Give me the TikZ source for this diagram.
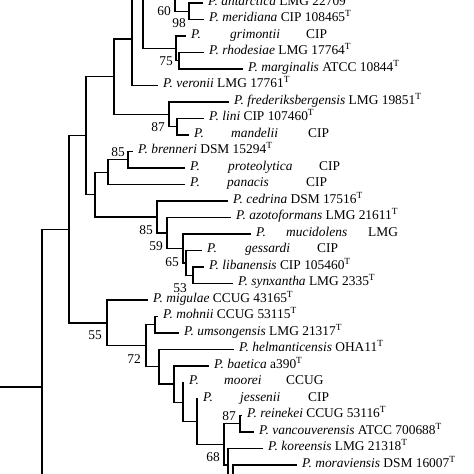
\documentclass[tikz,border=0pt]{standalone}
\usepackage{fontspec}
\setmainfont{Liberation Serif}
\usetikzlibrary{positioning}
\newcommand{\pspec}[1]{\textit{P. #1}}
\newcommand{\typeT}{\textsuperscript{T}}
\newcommand{\spaced}[4]{\makebox[#1pt][l]{\textit{P.}}\makebox[#2pt][l]{\textit{#3}}#4}

\begin{document}
\begin{tikzpicture}[
  x=1pt, y=-1pt,
  every node/.style={font=\fontsize{13.4}{15}\selectfont},
  taxon/.style={anchor=mid west, inner xsep=6pt, inner ysep=0pt},
  boot/.style={inner sep=0pt},
  branch/.style={line width=1.2pt, line cap=rect},
]
\useasboundingbox (0,0) rectangle (474,474);
\clip (0,0) rectangle (474,474);

% taxa (node = tip of the branch)
\node[taxon] (antarctica) at (202,3) {\pspec{antarctica} LMG 22709\typeT};
\node[taxon] (meridiana) at (203,19.5) {\pspec{meridiana} CIP 108465\typeT};
\node[taxon] (grimontii) at (185,36) {\spaced{39}{76}{grimontii}{CIP}};
\node[taxon] (rhodesiae) at (203,52.5) {\pspec{rhodesiae} LMG 17764\typeT};
\node[taxon] (marginalis) at (242,69) {\pspec{marginalis} ATCC 10844\typeT};
\node[taxon] (veronii) at (157,85.5) {\pspec{veronii} LMG 17761\typeT};
\node[taxon] (frederiks) at (228,102) {\pspec{frederiksbergensis} LMG 19851\typeT};
\node[taxon] (lini) at (203,118.5) {\pspec{lini} CIP 107460\typeT};
\node[taxon] (mandelii) at (188,135) {\spaced{37}{77}{mandelii}{CIP}};
\node[taxon] (brenneri) at (132,151.5) {\pspec{brenneri} DSM 15294\typeT};
\node[taxon] (proteolytica) at (184,168) {\spaced{38}{91}{proteolytica}{CIP}};
\node[taxon] (panacis) at (184,184.5) {\spaced{37}{79}{panacis}{CIP}};
\node[taxon] (cedrina) at (227,201) {\pspec{cedrina} DSM 17516\typeT};
\node[taxon] (azotoformans) at (230,217.5) {\pspec{azotoformans} LMG 21611\typeT};
\node[taxon] (mucidolens) at (250,234) {\spaced{30}{82}{mucidolens}{LMG}};
\node[taxon] (gessardi) at (201,250.5) {\spaced{38}{72}{gessardi}{CIP}};
\node[taxon] (libanensis) at (203,267) {\pspec{libanensis} CIP 105460\typeT};
\node[taxon] (synxantha) at (232,283.5) {\pspec{synxantha} LMG 2335\typeT};
\node[taxon] (migulae) at (147,300) {\pspec{migulae} CCUG 43165\typeT};
\node[taxon] (mohnii) at (157,316.5) {\pspec{mohnii} CCUG 53115\typeT};
\node[taxon] (umsongensis) at (178,333) {\pspec{umsongensis} LMG 21317\typeT};
\node[taxon] (helmanticensis) at (233,349.5) {\pspec{helmanticensis} OHA11\typeT};
\node[taxon] (baetica) at (208,366) {\pspec{baetica} a390\typeT};
\node[taxon] (moorei) at (183,382.5) {\spaced{35}{62}{moorei}{CCUG}};
\node[taxon] (jessenii) at (197,399) {\spaced{37}{68}{jessenii}{CIP}};
\node[taxon] (reinekei) at (241,415.5) {\pspec{reinekei} CCUG 53116\typeT};
\node[taxon] (vancouverensis) at (253,432) {\pspec{vancouverensis} ATCC 700688\typeT};
\node[taxon] (koreensis) at (262,448.5) {\pspec{koreensis} LMG 21318\typeT};
\node[taxon] (moraviensis) at (296,465) {\pspec{moraviensis} DSM 16007\typeT};

% internal nodes
\coordinate (cAntMer) at (189,11.25);
\coordinate (cRhoMar) at (179,60.75);
\coordinate (cGri) at (176,48.4);
\coordinate (cVer) at (132,39);
\coordinate (cFre) at (114,76.75);
\coordinate (cFreLin) at (169,114.4);
\coordinate (cLinMan) at (177,126.75);
\coordinate (cUpper) at (86,135.7);
\coordinate (cBreGrp) at (95,194.6);
\coordinate (cBrePan) at (108,172.1);
\coordinate (cBrePro) at (128,159.75);
\coordinate (cCed) at (157,217);
\coordinate (cAzo) at (167,233);
\coordinate (cMuc) at (183,248.4);
\coordinate (cGes) at (186,262.9);
\coordinate (cLibSyn) at (193,275.25);
\coordinate (cFluo) at (69,229.3);
\coordinate (cRoot) at (42,387);
\coordinate (cMig) at (107,322.9);
\coordinate (cMohGrp) at (146,345.8);
\coordinate (cMohUms) at (155,324.75);
\coordinate (cHel) at (159,366.8);
\coordinate (cBae) at (174,384);
\coordinate (cMoo) at (183,402.1);
\coordinate (cJes) at (197,421.7);
\coordinate (cRei) at (224,444.3);
\coordinate (cReiVan) at (240,423.75);
\coordinate (cKor) at (228,464.9);
\coordinate (cMor) at (233,481.3);

% branches leaving the visible part
\coordinate (offA) at (175,-8);
\coordinate (offB) at (143,-8);
\coordinate (offC) at (132,-8);
\coordinate (offRoot) at (-8,387);
\coordinate (offD) at (42,482);
\coordinate (offE) at (233,482);

\begin{scope}[branch]
\draw (offA) |- (cAntMer);
\draw (cAntMer) |- (antarctica.mid west);
\draw (cAntMer) |- (meridiana.mid west);
\draw (offB) |- (cGri);
\draw (cGri) |- (grimontii.mid west);
\draw (cGri) |- (cRhoMar);
\draw (cRhoMar) |- (rhodesiae.mid west);
\draw (cRhoMar) |- (marginalis.mid west);
\draw (offC) |- (veronii.mid west);
\draw (cFre) |- (cVer);
\draw (cFre) |- (cFreLin);
\draw (cFreLin) |- (frederiks.mid west);
\draw (cFreLin) |- (cLinMan);
\draw (cLinMan) |- (lini.mid west);
\draw (cLinMan) |- (mandelii.mid west);
\draw (cUpper) |- (cFre);
\draw (cUpper) |- (cBreGrp);
\draw (cBreGrp) |- (cBrePan);
\draw (cBreGrp) |- (cCed);
\draw (cBrePan) |- (cBrePro);
\draw (cBrePan) |- (panacis.mid west);
\draw (cBrePro) |- (brenneri.mid west);
\draw (cBrePro) |- (proteolytica.mid west);
\draw (cCed) |- (cedrina.mid west);
\draw (cCed) |- (cAzo);
\draw (cAzo) |- (azotoformans.mid west);
\draw (cAzo) |- (cMuc);
\draw (cMuc) |- (mucidolens.mid west);
\draw (cMuc) |- (cGes);
\draw (cGes) |- (gessardi.mid west);
\draw (cGes) |- (cLibSyn);
\draw (cLibSyn) |- (libanensis.mid west);
\draw (cLibSyn) |- (synxantha.mid west);
\draw (offRoot) -- (cRoot);
\draw (cRoot) |- (cFluo);
\draw (cRoot) -- (offD);
\draw (cFluo) |- (cUpper);
\draw (cFluo) |- (cMig);
\draw (cMig) |- (migulae.mid west);
\draw (cMig) |- (cMohGrp);
\draw (cMohGrp) |- (cMohUms);
\draw (cMohGrp) |- (cHel);
\draw (cMohUms) |- (mohnii.mid west);
\draw (cMohUms) |- (umsongensis.mid west);
\draw (cHel) |- (helmanticensis.mid west);
\draw (cHel) |- (cBae);
\draw (cBae) |- (baetica.mid west);
\draw (cBae) |- (cMoo);
\draw (cMoo) |- (moorei.mid west);
\draw (cMoo) |- (cJes);
\draw (cJes) |- (jessenii.mid west);
\draw (cJes) |- (cRei);
\draw (cRei) |- (cReiVan);
\draw (cRei) |- (cKor);
\draw (cReiVan) |- (reinekei.mid west);
\draw (cReiVan) |- (vancouverensis.mid west);
\draw (cKor) |- (koreensis.mid west);
\draw (cKor) |- (cMor);
\draw (cMor) |- (moraviensis.mid west);
\draw (cMor) -- (offE);
\end{scope}

% bootstrap values
\node[boot] (b60) at (164,11) {60};
\node[boot] (b98) at (179,23) {98};
\node[boot] (b75) at (166,61) {75};
\node[boot] (b87a) at (158,127) {87};
\node[boot] (b85a) at (118,152) {85};
\node[boot] (b85b) at (146,230) {85};
\node[boot] (b59) at (156,246) {59};
\node[boot] (b65) at (172,262) {65};
\node[boot] (b53) at (180,288) {53};
\node[boot] (b55) at (95,335) {55};
\node[boot] (b72) at (134,359) {72};
\node[boot] (b87b) at (229,416) {87};
\node[boot] (b68) at (213,457) {68};

\end{tikzpicture}
\end{document}
